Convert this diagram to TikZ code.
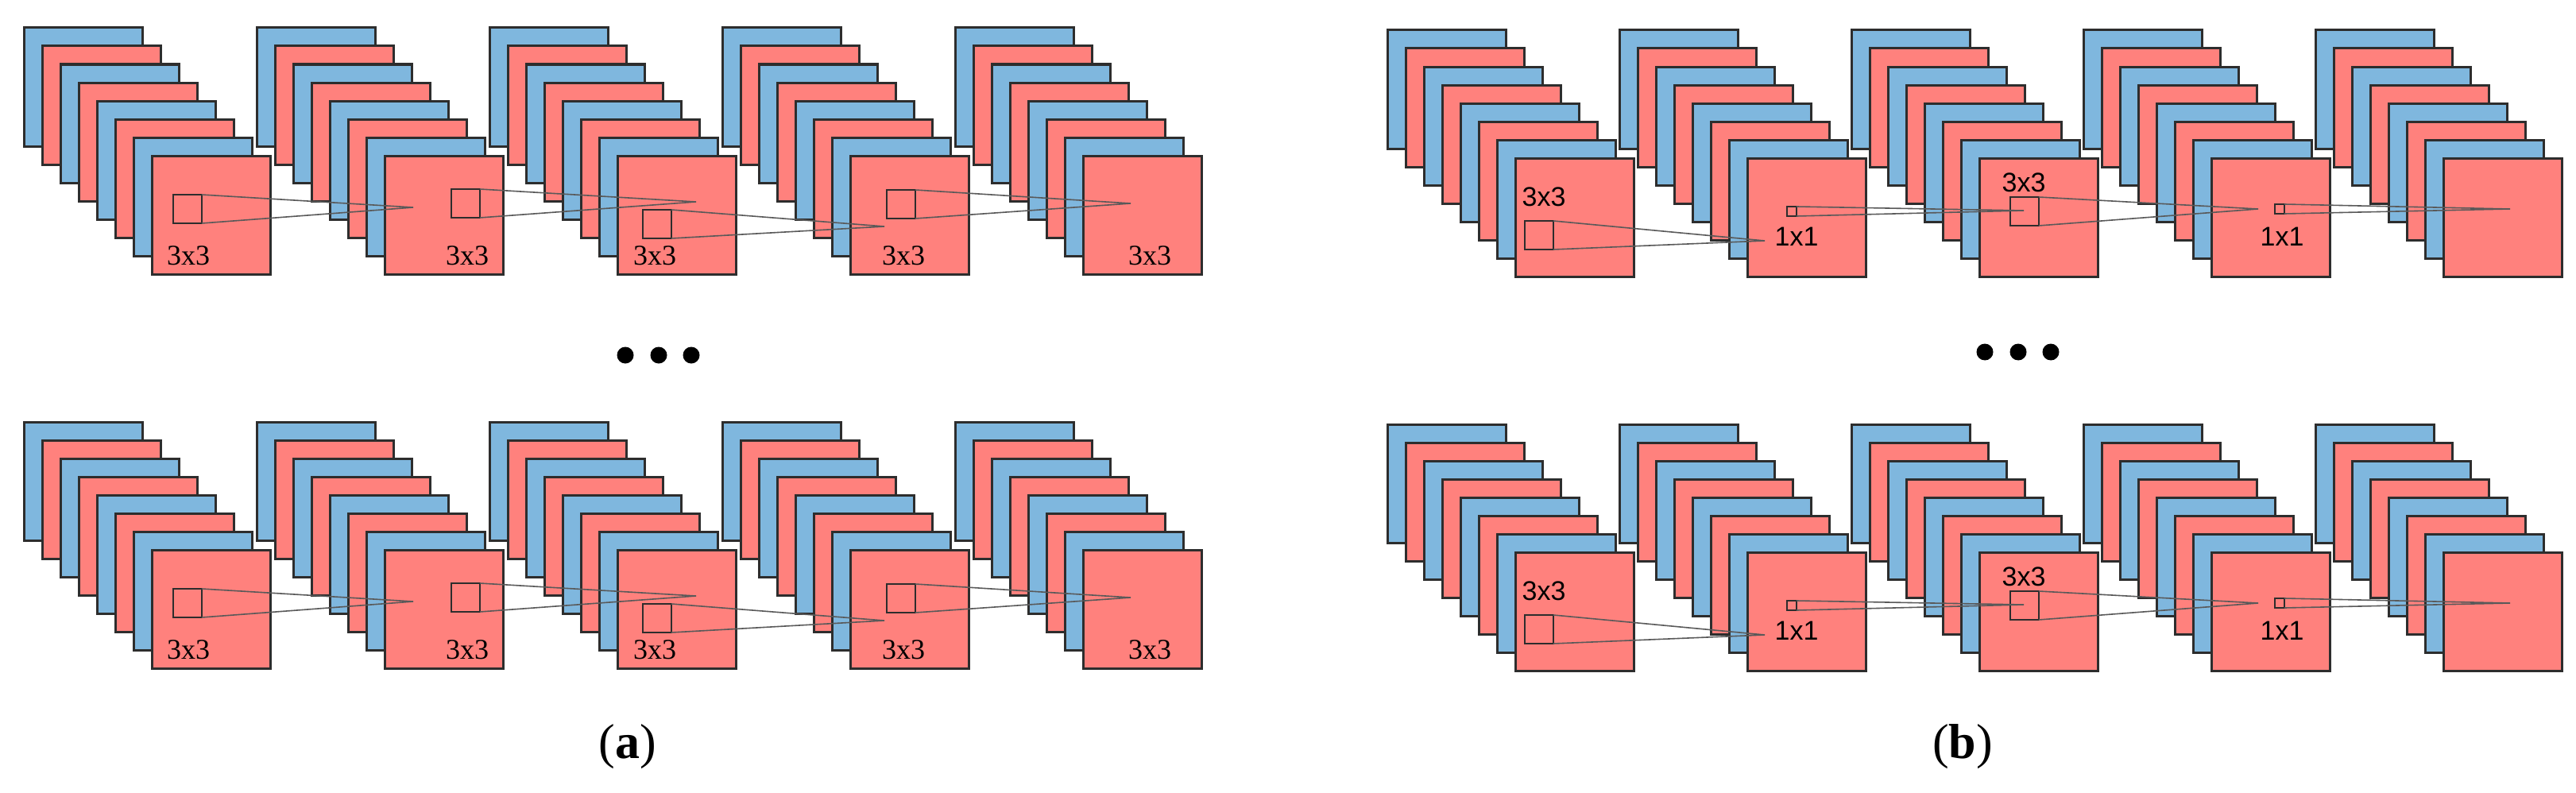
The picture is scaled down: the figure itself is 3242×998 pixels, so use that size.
\documentclass[tikz,border=0pt]{standalone}
\usepackage{fontspec}
\setmainfont{Liberation Serif}
\newfontfamily\labsans{Liberation Sans}
\definecolor{lblue}{RGB}{127,183,222}
\definecolor{lred}{RGB}{255,129,125}
\definecolor{edge}{RGB}{45,45,45}
\newcommand\layerstack[3]{%
  \foreach \i/\col in {7/lblue,6/lred,5/lblue,4/lred,3/lblue,2/lred,1/lblue}
    \draw[layer,fill=\col] (#1-23*\i,#2-23*\i) rectangle ++(149,149);
  \node[frontsq,anchor=north west] (#3) at (#1,#2) {};
}
\newcommand\panelA[2]{% #1 = front top y, #2 = prefix
  \foreach \k in {0,...,4}{\layerstack{191+293*\k}{#1}{#2F\k}}
  \node[smallsq] (#2S0) at ([shift={(27,49)}]#2F0.north west) {};
  \node[smallsq] (#2S1) at ([shift={(84,42)}]#2F1.north west) {};
  \node[smallsq] (#2S2) at ([shift={(32,68)}]#2F2.north west) {};
  \node[smallsq] (#2S3) at ([shift={(46,43)}]#2F3.north west) {};
  \coordinate (#2A1) at ([shift={(36,65)}]#2F1.north west);
  \coordinate (#2A2) at ([shift={(99,58)}]#2F2.north west);
  \coordinate (#2A3) at ([shift={(43,89)}]#2F3.north west);
  \coordinate (#2A4) at ([shift={(60,60)}]#2F4.north west);
  \node[labA] (#2L0) at ([shift={(46,126)}]#2F0.north west) {3x3};
  \node[labA] (#2L1) at ([shift={(104,126)}]#2F1.north west) {3x3};
  \node[labA] (#2L2) at ([shift={(47,126)}]#2F2.north west) {3x3};
  \node[labA] (#2L3) at ([shift={(67,126)}]#2F3.north west) {3x3};
  \node[labA] (#2L4) at ([shift={(84,126)}]#2F4.north west) {3x3};
  \draw[conn] (#2S0.north east) -- (#2A1) -- (#2S0.south east);
  \draw[conn] (#2S1.north east) -- (#2A2) -- (#2S1.south east);
  \draw[conn] (#2S2.north east) -- (#2A3) -- (#2S2.south east);
  \draw[conn] (#2S3.north east) -- (#2A4) -- (#2S3.south east);
}
\newcommand\panelB[2]{%
  \foreach \k in {0,...,4}{\layerstack{1907+292*\k}{#1}{#2F\k}}
  \node[smallsq] (#2S0) at ([shift={(12,79)}]#2F0.north west) {};
  \node[tinysq] (#2S1) at ([shift={(50,61)}]#2F1.north west) {};
  \node[smallsq] (#2S2) at ([shift={(39,49)}]#2F2.north west) {};
  \node[tinysq] (#2S3) at ([shift={(80,58)}]#2F3.north west) {};
  \coordinate (#2A1) at ([shift={(22,104)}]#2F1.north west);
  \coordinate (#2A2) at ([shift={(56,66)}]#2F2.north west);
  \coordinate (#2A3) at ([shift={(59,64)}]#2F3.north west);
  \coordinate (#2A4) at ([shift={(84,64)}]#2F4.north west);
  \node[labB] (#2L0) at ([shift={(36,49)}]#2F0.north west) {3x3};
  \node[labB] (#2L1) at ([shift={(62,99)}]#2F1.north west) {1x1};
  \node[labB] (#2L2) at ([shift={(56,31)}]#2F2.north west) {3x3};
  \node[labB] (#2L3) at ([shift={(89,99)}]#2F3.north west) {1x1};
  \draw[conn] (#2S0.north east) -- (#2A1) -- (#2S0.south east);
  \draw[conn] (#2S1.north east) -- (#2A2) -- (#2S1.south east);
  \draw[conn] (#2S2.north east) -- (#2A3) -- (#2S2.south east);
  \draw[conn] (#2S3.north east) -- (#2A4) -- (#2S3.south east);
}
\begin{document}
\begin{tikzpicture}[x=1pt,y=-1pt,
  layer/.style={draw=edge,line width=3pt},
  frontsq/.style={draw=edge,line width=3pt,fill=lred,minimum width=149pt,minimum height=149pt,inner sep=0pt,outer sep=0pt},
  smallsq/.style={draw=edge,line width=2.5pt,minimum width=36pt,minimum height=36pt,inner sep=0pt,outer sep=0pt,anchor=north west},
  tinysq/.style={draw=edge,line width=2pt,minimum width=12pt,minimum height=12pt,inner sep=0pt,outer sep=0pt,anchor=north west},
  labA/.style={inner sep=0pt,font=\fontsize{36}{36}\selectfont},
  labB/.style={inner sep=0pt,font=\labsans\fontsize{34}{34}\selectfont},
  conn/.style={draw=black!65,line width=1.6pt},
  dot/.style={circle,fill=black,inner sep=0pt,minimum size=21pt},
  captext/.style={inner sep=0pt,font=\fontsize{62}{62}\selectfont}]
\useasboundingbox (0,0) rectangle (3242,998);
\panelA{196}{aT}
\panelA{692}{aB}
\panelB{199}{bT}
\panelB{695}{bB}
\node[dot] (ad1) at (787,447) {};
\node[dot] (ad2) at (829,447) {};
\node[dot] (ad3) at (870,447) {};
\node[dot] (bd1) at (2498,443) {};
\node[dot] (bd2) at (2540,443) {};
\node[dot] (bd3) at (2581,443) {};
\node[captext] (capa) at (790,940) {(\textbf{a})};
\node[captext] (capb) at (2470,940) {(\textbf{b})};
\end{tikzpicture}
\end{document}
